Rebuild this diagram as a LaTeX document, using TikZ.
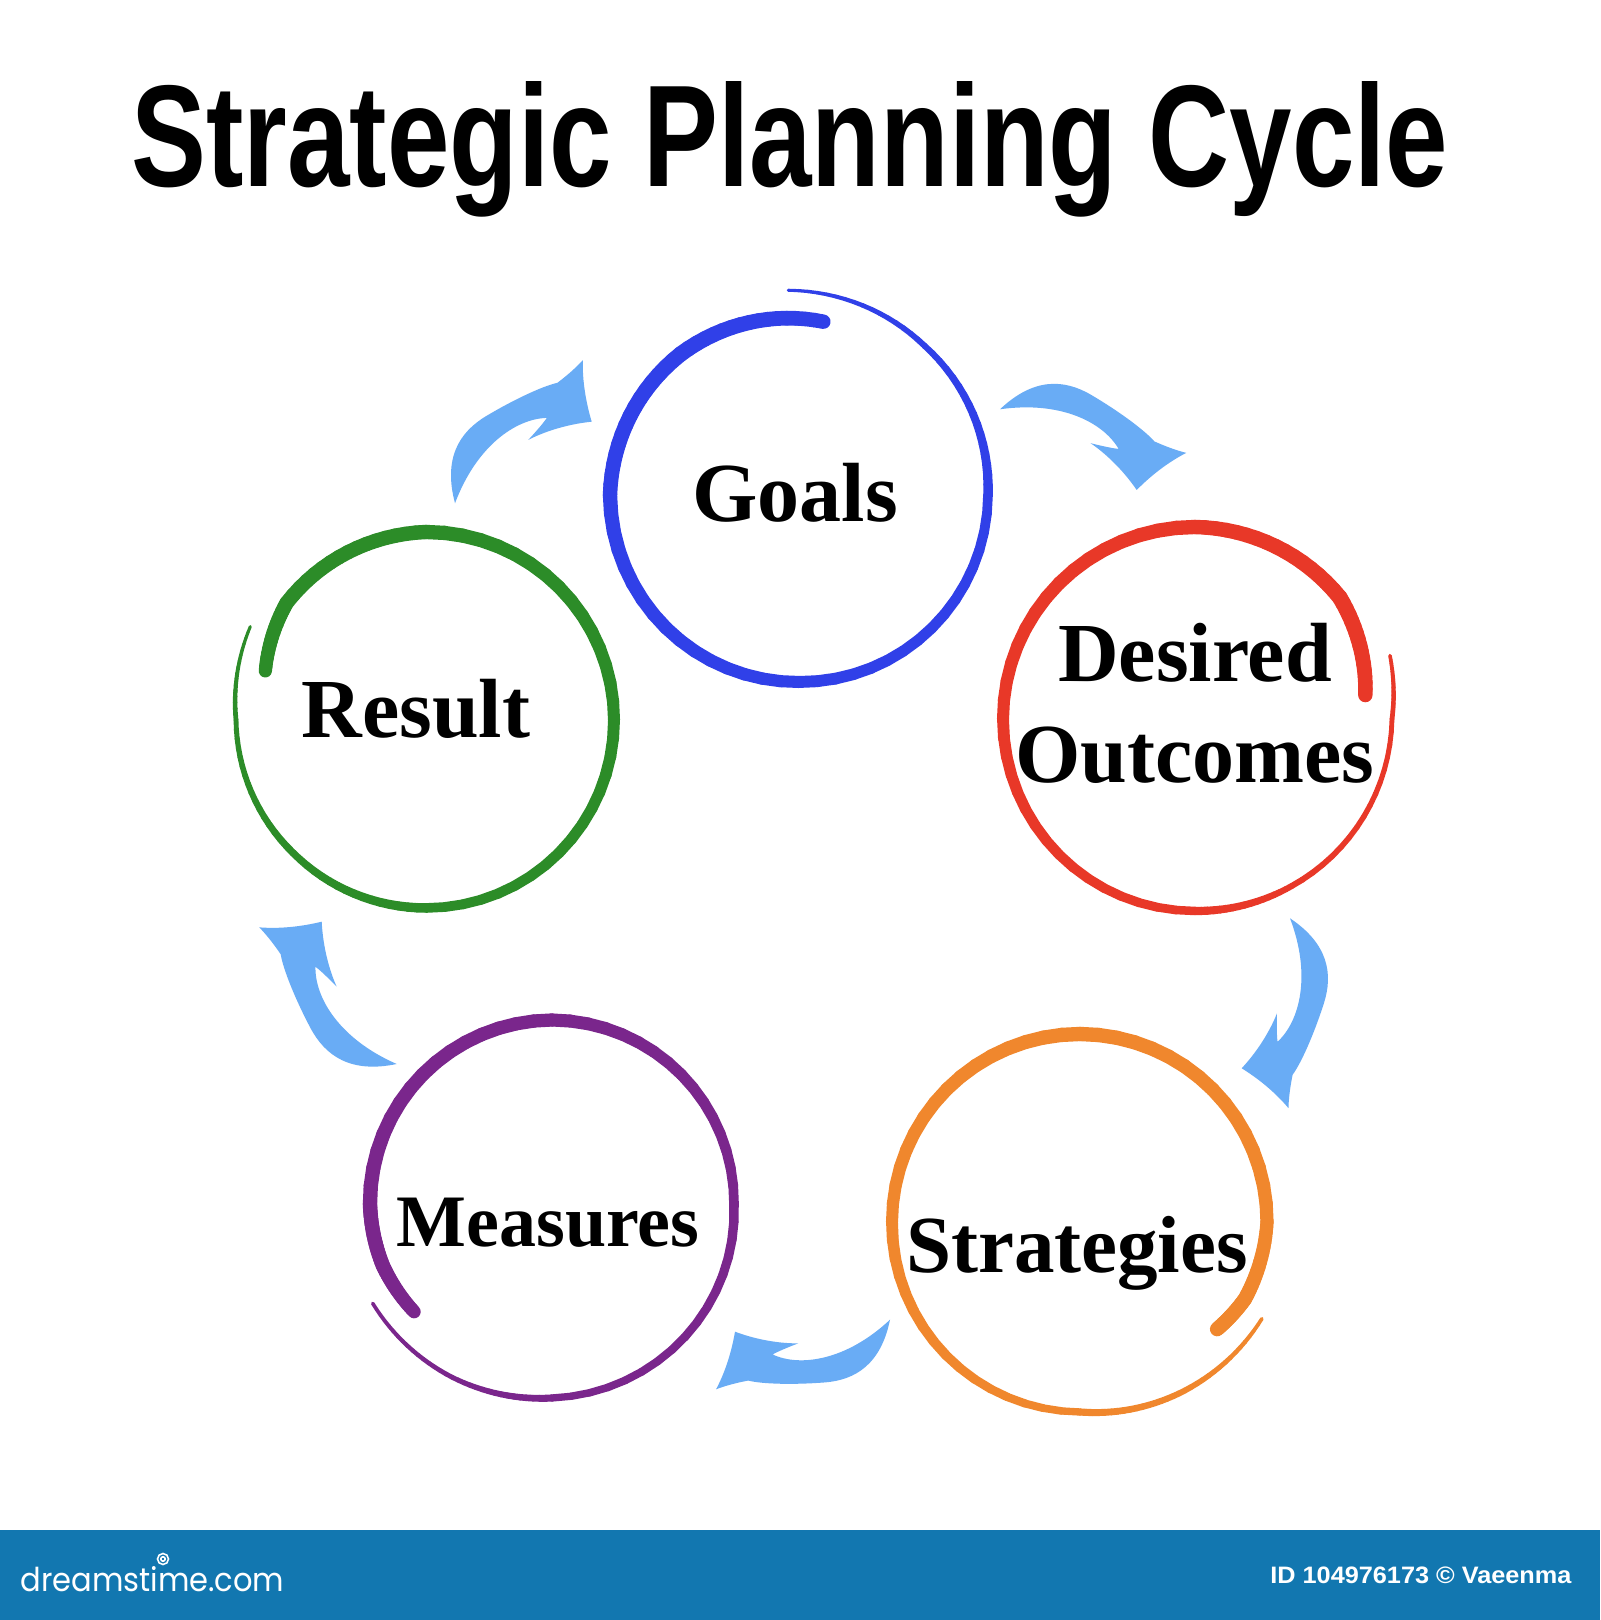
\documentclass[tikz,border=0pt]{standalone}
\usepackage{graphicx}
\usepackage{fontspec}
\setmainfont{Liberation Serif}
\setsansfont{Liberation Sans}
\newfontfamily\logofont{Poppins}
\definecolor{goalblue}{RGB}{48,64,232}
\definecolor{outred}{RGB}{232,56,40}
\definecolor{stratorange}{RGB}{240,135,45}
\definecolor{measpurple}{RGB}{122,38,140}
\definecolor{resgreen}{RGB}{44,140,40}
\definecolor{arrowblue}{RGB}{105,172,245}
\definecolor{footerblue}{RGB}{18,119,176}
\tikzset{
  label/.style={inner sep=0pt, anchor=base, text=black, align=center},
  footertext/.style={inner sep=0pt, anchor=base west, text=white}
}
% hand-drawn ring: cx, cy, colour, keyframes angle/radius/width
\newcommand\handring[4]{%
  \foreach \ka/\kr/\kw [count=\kc, remember=\ka as \lka (initially 0), remember=\kr as \lkr (initially 0), remember=\kw as \lkw (initially 0)] in {#4}{%
    \ifnum\kc>1
      \foreach \kk in {1,...,16}{%
        \pgfmathsetmacro\ta{\lka+(\ka-\lka)*(\kk-1)/16}%
        \pgfmathsetmacro\tb{\lka+(\ka-\lka)*\kk/16}%
        \pgfmathsetmacro\ra{\lkr+(\kr-\lkr)*(\kk-1)/16}%
        \pgfmathsetmacro\rb{\lkr+(\kr-\lkr)*\kk/16}%
        \pgfmathsetmacro\ww{0.6*(\lkw+(\kw-\lkw)*(\kk-0.5)/16)}%
        \draw[draw=#3, line width=\ww pt, line cap=round] ({#1+\ra*cos(\ta)},{#2+\ra*sin(\ta)}) -- ({#1+\rb*cos(\tb)},{#2+\rb*sin(\tb)});
      }%
    \fi
  }%
}
% curved arrow: tail (x,y), tip (x,y); local shape in units of 1/100 of tail-tip distance
\newcommand\cyclearrow[4]{%
  \pgfmathsetmacro\adx{(#3-#1)/100}%
  \pgfmathsetmacro\ady{(#4-#2)/100}%
  \pgfmathsetmacro\nady{(#2-#4)/100}%
  \fill[arrowblue, cm={\adx,\ady,\nady,\adx,(#1,#2)}]
    (0,0) .. controls (8,28) and (25,37) .. (45,37)
    .. controls (65,37) and (85,35) .. (94,32)
    .. controls (103,33) and (110,34.5) .. (115,36)
    .. controls (108,25) and (103,12) .. (100,0)
    .. controls (85,7) and (70,10) .. (60,10.6)
    .. controls (68,13) and (74,15) .. (77,16.5)
    .. controls (60,26) and (30,24) .. cycle;
}
\begin{document}
\begin{tikzpicture}[x=0.5pt,y=0.5pt]
\useasboundingbox (0,0) rectangle (1600,1620);
\fill[white] (0,0) rectangle (1600,1620);

% title
\node[inner sep=0pt, anchor=base west] (title) at (131,1433)
  {\resizebox{658.5pt}{52.5pt}{\sffamily\bfseries Strategic Planning Cycle}};

% rings
\handring{799}{1125}{goalblue}{82/175/12, 130/184/13, 180/189/12, 270/187/10, 360/189/8, 410/195/5, 453/205/2.5}
\handring{1195}{901}{outred}{18/205/3, 0/197/4, -60/193/5, -90/192/7, -180/192/10, -270/192/12, -320/189/13, -352/172/12}
\handring{1080}{398}{stratorange}{-28/206/3, -60/198/5, -90/190/6, -180/188/10, -270/188/12, -360/187/11, -385/182/12, -398/174/12}
\handring{552}{416}{measpurple}{209/205/3, 240/200/4, 270/194/6, 360/182/8, 450/184/11, 540/182/12, 560/180/12, 578/175/11}
\handring{426}{900}{resgreen}{152/199/2.5, 180/190/4, 225/188/6, 270/188/8, 360/188/10, 450/188/12, 500/182/12, 523/168/11}

% labels
\node[label, font=\fontsize{42pt}{50.5pt}\selectfont\bfseries] (goals) at (795,1098) {Goals};
\node[label, font=\fontsize{42pt}{50.5pt}\selectfont\bfseries] (outcomes) at (1195,837) {Desired\\Outcomes};
\node[label, font=\fontsize{40.5pt}{48pt}\selectfont\bfseries] (strategies) at (1077,347) {Strategies};
\node[label, font=\fontsize{37pt}{44pt}\selectfont\bfseries] (measures) at (548,373) {Measures};
\node[label, font=\fontsize{42pt}{50.5pt}\selectfont\bfseries] (result) at (416,882) {Result};

% arrows
\cyclearrow{455}{1116.7}{591.7}{1198.3}
\cyclearrow{1000}{1210.7}{1136.7}{1130}
\cyclearrow{1290}{701.7}{1241.7}{551.7}
\cyclearrow{890}{300.3}{735}{288.3}
\cyclearrow{396.7}{556}{321.7}{698.3}

% footer
\fill[footerblue] (0,0) rectangle (1600,90);
\node[footertext] (logo) at (20,28) {\resizebox{132pt}{12.5pt}{\logofont dreamstime.com}};
\draw[white, line width=0.8pt] (163,61) circle (5.5);
\draw[white, line width=0.8pt] (163,61) circle (2.2);
\node[footertext] (credit) at (1270,37) {\resizebox{150.5pt}{8.3pt}{\sffamily\bfseries ID 104976173 © Vaeenma}};
\end{tikzpicture}
\end{document}
